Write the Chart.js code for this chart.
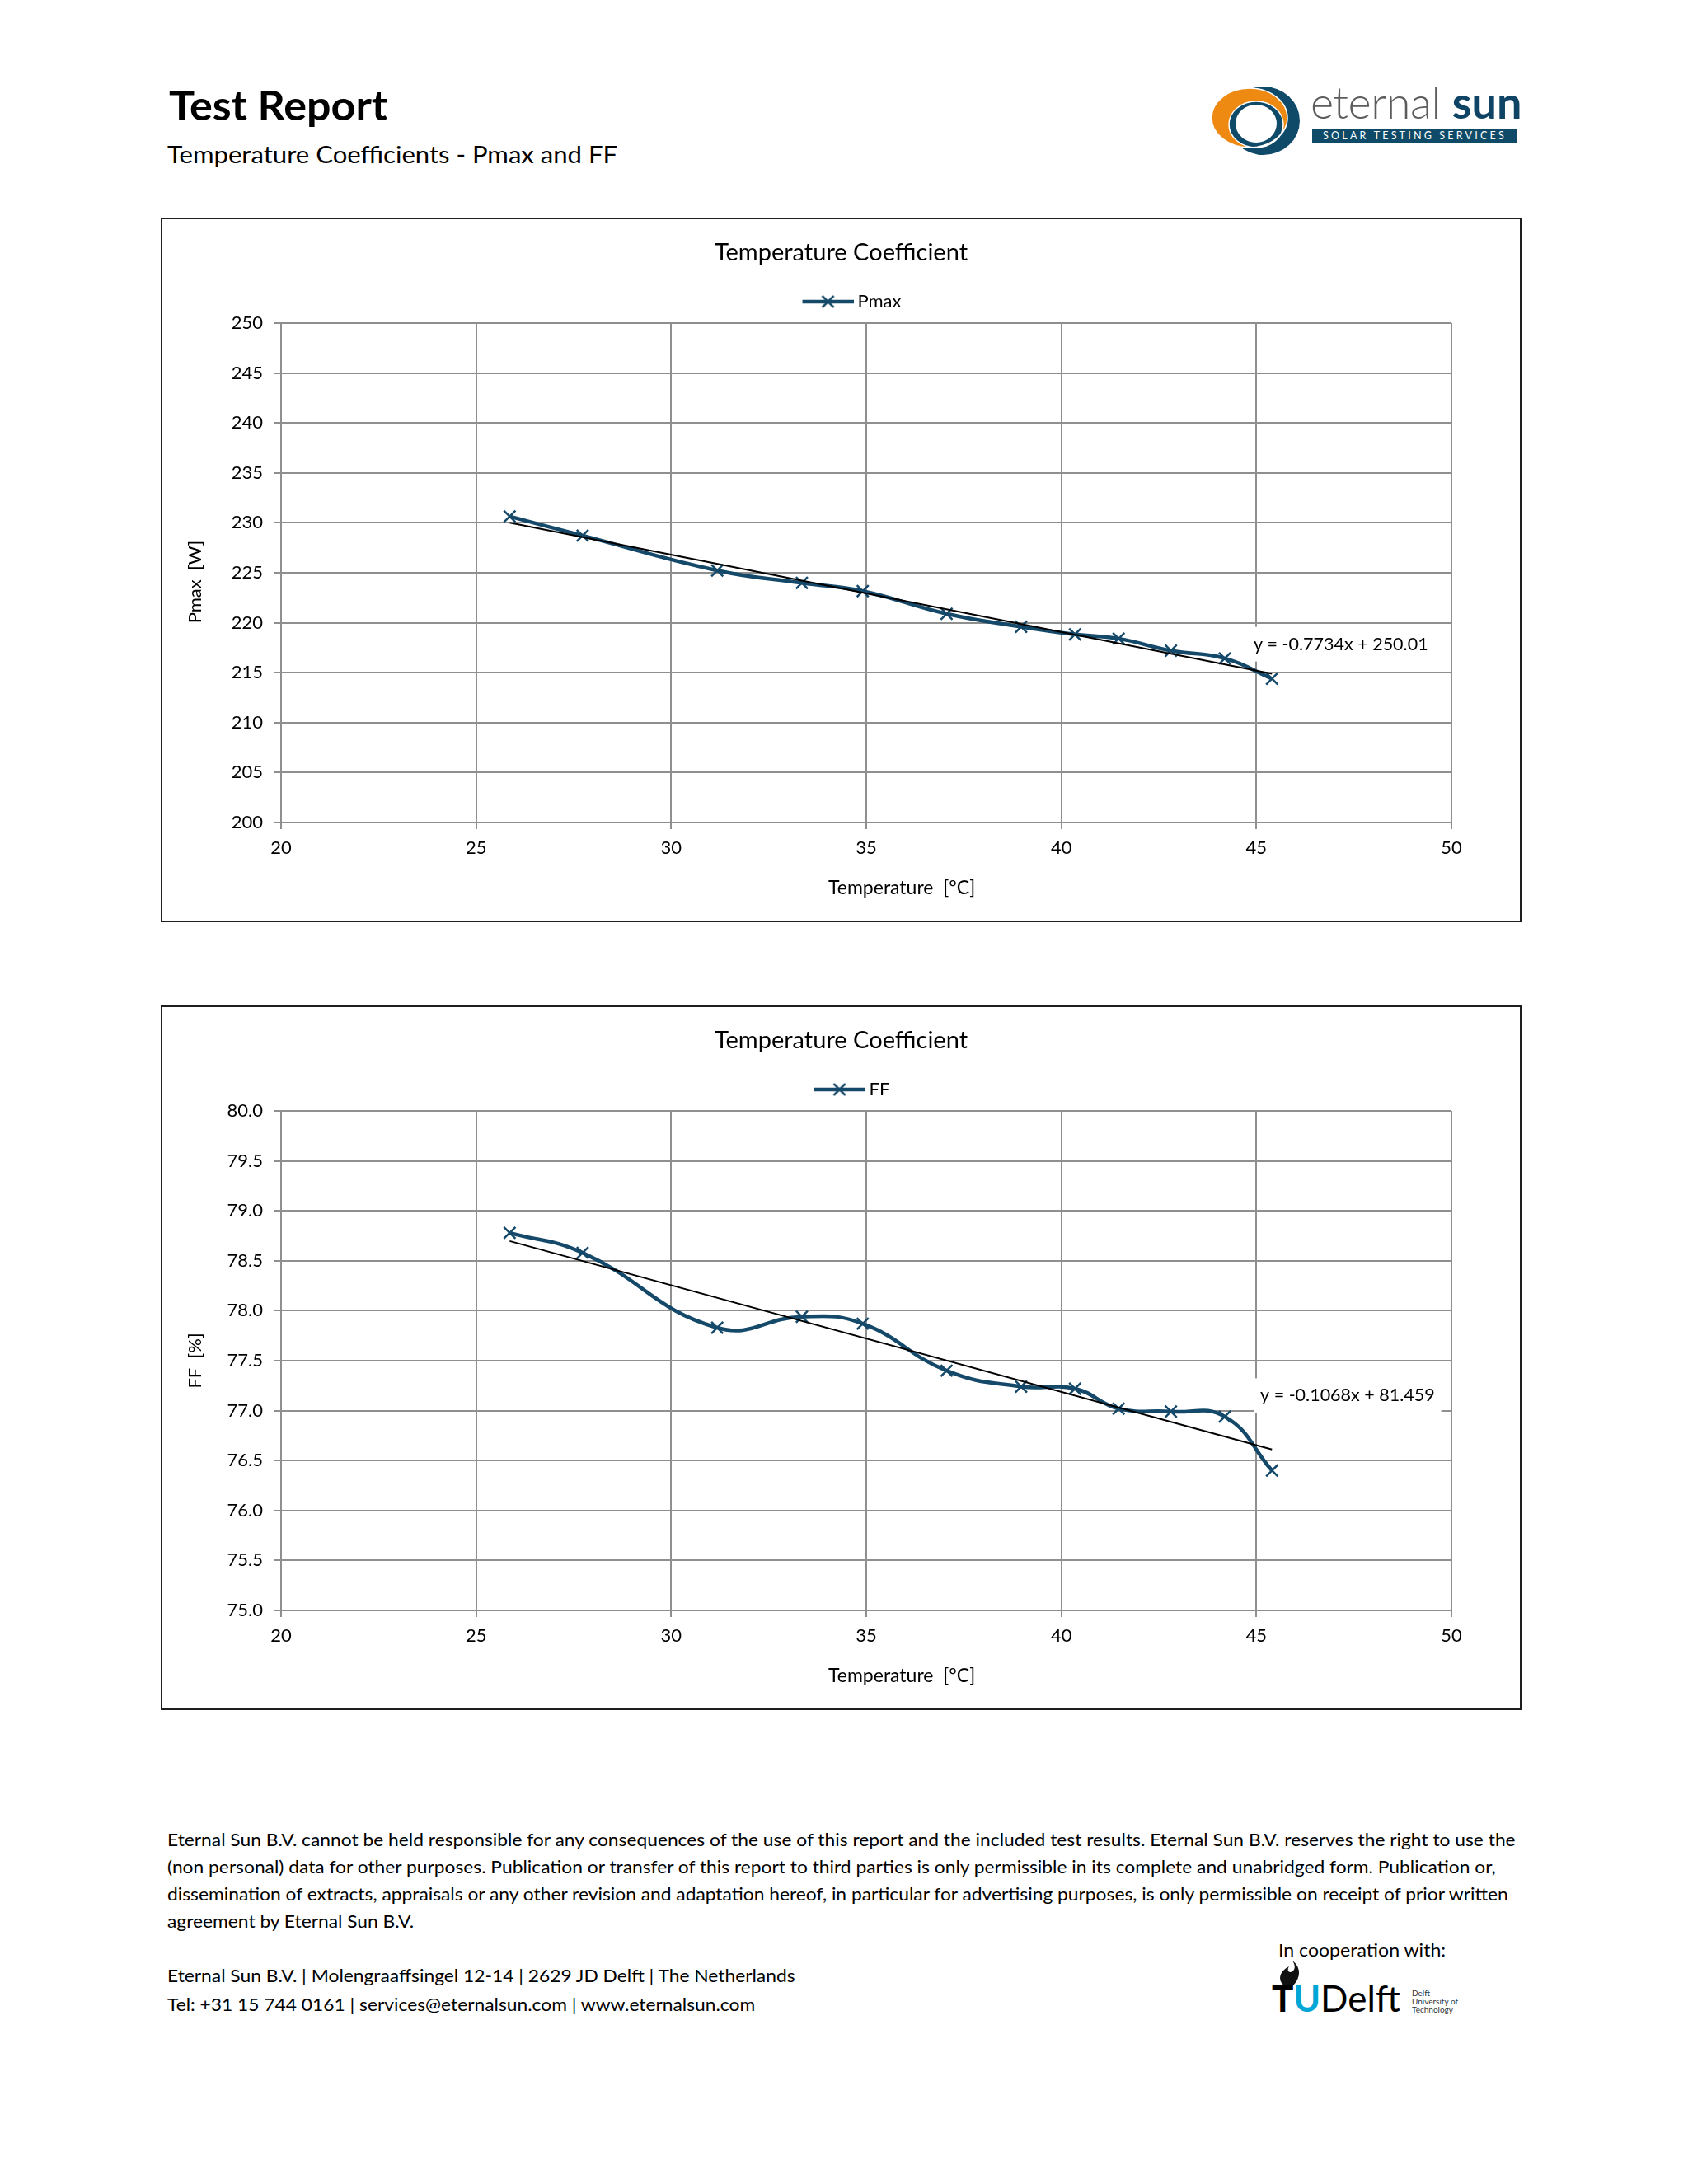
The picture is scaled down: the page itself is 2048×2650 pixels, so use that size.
<!DOCTYPE html>
<html>
<head>
<meta charset="utf-8">
<title>Test Report - Temperature Coefficients</title>
<script src="https://cdn.jsdelivr.net/npm/chart.js@4.4.1/dist/chart.umd.min.js"></script>
<style>
    body { margin: 0; background: #fff; font-family: Lato, "Noto Sans", sans-serif; color: #000; }
    #page { position: relative; width: 2048px; height: 2650px; overflow: hidden; background: #fff; }
    .txt { position: absolute; white-space: nowrap; line-height: 1.2; transform-origin: left top; }
    #report_title { left: 205px; top: 97px; font-size: 50px; font-weight: 700; transform: scaleX(1.04); }
    #report_sub { left: 203px; top: 171px; font-size: 28px; transform: scaleX(1.11); }
    .chart_box { position: absolute; left: 195px; width: 1651px; height: 855px; border: 2px solid #1e1e1e; box-sizing: border-box; }
    .chart_box canvas { position: absolute; left: 0; top: 0; }
    #disclaimer { left: 203px; top: 2215px; font-size: 21px; line-height: 33px; transform: scaleX(1.085); }
    #address { left: 203px; top: 2379px; font-size: 21px; line-height: 35px; transform: scaleX(1.085); }
    #coop { left: 1551px; top: 2353px; font-size: 21px; transform: scaleX(1.10); }
    #tud_word { left: 1543px; top: 2402px; font-size: 44px; line-height: 1; }
    #tud_word .t { font-weight: 700; color: #000; }
    #tud_word .u { font-weight: 700; color: #00a6d6; }
    #tud_small { left: 1713px; top: 2413px; font-size: 10px; line-height: 10px; color: #333; }
    #es_word { left: 1590px; top: 97px; font-size: 54px; line-height: 1; }
    #es_word .eternal { font-weight: 300; color: #5b5c5e; letter-spacing: -0.5px; }
    #es_word .sun { font-weight: 700; color: #0f4464; }
    #es_bar { position: absolute; left: 1592px; top: 156px; width: 249px; height: 18px; background: #0f4b69;
        color: #fff; font-size: 12.5px; line-height: 18px; letter-spacing: 3.2px; text-align: center; white-space: nowrap; }
</style>
</head>
<body>
<div id="page">
    <div class="txt" id="report_title">Test Report</div>
    <div class="txt" id="report_sub">Temperature Coefficients - Pmax and FF</div>

    <svg style="position:absolute;left:0;top:0" width="1600" height="200">
        <path fill="#0f4b69" fill-rule="evenodd"
              d="M 1489 146.5 a 44 41.5 0 1 0 88 0 a 44 41.5 0 1 0 -88 0 Z M 1499 150 a 25 23 0 1 0 50 0 a 25 23 0 1 0 -50 0 Z"/>
        <path fill="#ee8a12" fill-rule="evenodd" stroke="#fff" stroke-width="1.5"
              d="M 1470 143 a 46 36 0 1 0 92 0 a 46 36 0 1 0 -92 0 Z M 1491 151 a 33 28 0 1 0 66 0 a 33 28 0 1 0 -66 0 Z"/>
    </svg>
    <div class="txt" id="es_word"><span class="eternal">eternal</span> <span class="sun">sun</span></div>
    <div id="es_bar">SOLAR TESTING SERVICES</div>

    <div class="chart_box" style="top:264px"><canvas id="chart_pmax" width="1647" height="851"></canvas></div>
    <div class="chart_box" style="top:1220px"><canvas id="chart_ff" width="1647" height="851"></canvas></div>

    <div class="txt" id="disclaimer">
        Eternal Sun B.V. cannot be held responsible for any consequences of the use of this report and the included test results. Eternal Sun B.V. reserves the right to use the<br>
        (non personal) data for other purposes. Publication or transfer of this report to third parties is only permissible in its complete and unabridged form. Publication or,<br>
        dissemination of extracts, appraisals or any other revision and adaptation hereof, in particular for advertising purposes, is only permissible on receipt of prior written<br>
        agreement by Eternal Sun B.V.
    </div>
    <div class="txt" id="address">
        Eternal Sun B.V. | Molengraaffsingel 12-14 | 2629 JD Delft | The Netherlands<br>
        Tel: +31 15 744 0161 | services@eternalsun.com | www.eternalsun.com
    </div>
    <div class="txt" id="coop">In cooperation with:</div>
    <svg style="position:absolute;left:1540px;top:2378px" width="50" height="36">
        <path d="M 22 34 C 8 26, 12 14, 24 8 C 20 14, 26 18, 30 12 C 32 8, 30 4, 28 1 C 40 10, 38 24, 26 34 Z" fill="#111"/>
    </svg>
    <div class="txt" id="tud_word"><span class="t">T</span><span class="u">U</span><span>Delft</span></div>
    <div class="txt" id="tud_small">Delft<br>University of<br>Technology</div>
</div>

<script>
// temperature of each measurement [°C]
const arrTemps = [25.86, 27.73, 31.18, 33.35, 34.91, 37.06, 38.97, 40.35, 41.47, 42.81, 44.19, 45.40];
// maximum power [W]
const arrPmax = [230.64, 228.72, 225.23, 223.99, 223.17, 220.90, 219.60, 218.83, 218.41, 217.20, 216.43, 214.40];
// fill factor [%]
const arrFF = [78.78, 78.58, 77.83, 77.94, 77.87, 77.40, 77.24, 77.22, 77.02, 76.99, 76.94, 76.40];

// linear trendlines as printed on the report
const arrPmaxFit = [-0.7734, 250.01];
const arrFFFit = [-0.1068, 81.459];

const arrTempTicks = [20, 50, 5];
const arrPmaxTicks = [200, 250, 5];
const arrFFTicks = [75, 80, 0.5];

const strLineColor = '#15496a';
const strGridColor = '#8f8f8f';

Chart.defaults.font.family = 'Lato, "Noto Sans", sans-serif';
Chart.defaults.color = '#000';

// white box with the trendline equation, like excel does
const eqLabelPlugin = {
    id: 'eqLabel',
    beforeDatasetsDraw(chart, args, opts) {
        if (!opts.text) {
            return;
        }
        const ctx = chart.ctx;
        const x = chart.scales.x.getPixelForValue(opts.x);
        const y = chart.scales.y.getPixelForValue(opts.y);
        ctx.save();
        ctx.font = '21.5px Lato, "Noto Sans", sans-serif';
        const w = ctx.measureText(opts.text).width;
        ctx.fillStyle = '#fff';
        ctx.fillRect(x - 8, y - 21, w + 16, 42);
        ctx.fillStyle = '#000';
        ctx.textBaseline = 'middle';
        ctx.fillText(opts.text, x, y);
        ctx.restore();
    }
};

// legend sits a bit closer to the plot in excel
const legendNudgePlugin = {
    id: 'legendNudge',
    afterLayout(chart) {
        chart.legend.top -= 5;
        chart.legend.bottom -= 5;
    }
};

// line with an x in the middle, drawn at the right end of a wider image
function makeLegendMark(color) {
    const c = document.createElement('canvas');
    c.width = 94;
    c.height = 22;
    const g = c.getContext('2d');
    g.strokeStyle = color;
    g.lineWidth = 4.5;
    g.beginPath();
    g.moveTo(32, 11);
    g.lineTo(94, 11);
    g.stroke();
    g.lineWidth = 2.5;
    g.beginPath();
    g.moveTo(56, 4);
    g.lineTo(70, 18);
    g.moveTo(70, 4);
    g.lineTo(56, 18);
    g.stroke();
    return c;
}

function buildChart(strId, strLabel, arrValues, arrFit, arrTicks, strYTitle, arrEqAt, intDecimals) {
    const arrPoints = arrTemps.map((t, i) => ({x: t, y: arrValues[i]}));
    const tFirst = arrTemps[0];
    const tLast = arrTemps[arrTemps.length - 1];
    const arrTrend = [
        {x: tFirst, y: arrFit[0] * tFirst + arrFit[1]},
        {x: tLast, y: arrFit[0] * tLast + arrFit[1]}
    ];

    const ctx = document.getElementById(strId).getContext('2d');
    return new Chart(ctx, {
        type: 'line',
        data: {
            datasets: [
                {
                    label: strLabel,
                    data: arrPoints,
                    borderColor: strLineColor,
                    borderWidth: 4.5,
                    tension: 0.45,
                    pointStyle: 'crossRot',
                    pointRadius: 10,
                    pointBorderWidth: 2.5,
                    pointBorderColor: strLineColor,
                    pointBackgroundColor: 'transparent',
                    order: 1
                },
                {
                    label: 'trend',
                    data: arrTrend,
                    borderColor: '#000',
                    borderWidth: 2,
                    pointRadius: 0,
                    tension: 0,
                    order: 0
                }
            ]
        },
        options: {
            responsive: false,
            animation: false,
            devicePixelRatio: 1,
            layout: {
                padding: {top: 0, left: 0, right: 0, bottom: 9}
            },
            plugins: {
                title: {
                    display: true,
                    text: 'Temperature Coefficient',
                    font: {size: 29, weight: 'normal'},
                    padding: {top: 23.6, bottom: 25.6}
                },
                legend: {
                    display: true,
                    labels: {
                        usePointStyle: true,
                        pointStyle: makeLegendMark(strLineColor),
                        pointStyleWidth: 82,
                        font: {size: 22},
                        padding: 10,
                        filter: (item) => item.datasetIndex === 0
                    }
                },
                tooltip: {enabled: false},
                eqLabel: {
                    text: `y = ${arrFit[0]}x + ${arrFit[1]}`,
                    x: arrEqAt[0],
                    y: arrEqAt[1]
                }
            },
            scales: {
                x: {
                    type: 'linear',
                    min: arrTempTicks[0],
                    max: arrTempTicks[1],
                    afterFit: (scale) => { scale.height = 110; },
                    ticks: {
                        stepSize: arrTempTicks[2],
                        font: {size: 22},
                        padding: 10
                    },
                    grid: {color: strGridColor, lineWidth: 2, tickLength: 8},
                    border: {color: strGridColor, width: 2},
                    title: {
                        display: true,
                        text: '\u2003\u2003\u2003\u2003\u2003Temperature  [°C]',
                        font: {size: 23},
                        padding: {top: 0, bottom: 16.2}
                    }
                },
                y: {
                    type: 'linear',
                    min: arrTicks[0],
                    max: arrTicks[1],
                    afterFit: (scale) => { scale.width = 144; },
                    ticks: {
                        stepSize: arrTicks[2],
                        font: {size: 22},
                        padding: 14,
                        callback: (value) => Number(value).toFixed(intDecimals)
                    },
                    grid: {color: strGridColor, lineWidth: 2, tickLength: 8},
                    border: {color: strGridColor, width: 2},
                    title: {
                        display: true,
                        text: strYTitle,
                        font: {size: 22},
                        padding: {top: 26.8, bottom: 0}
                    }
                },
                // empty space on the right so title and legend stay centred on the box
                yRight: {
                    type: 'linear',
                    position: 'right',
                    min: 0,
                    max: 1,
                    afterFit: (scale) => { scale.width = 83; },
                    grid: {display: false},
                    border: {display: false},
                    ticks: {display: false}
                }
            }
        },
        plugins: [eqLabelPlugin, legendNudgePlugin]
    });
}

buildChart('chart_pmax', 'Pmax', arrPmax, arrPmaxFit, arrPmaxTicks, 'Pmax  [W]\u2003 ', [44.93, 217.85], 0);
buildChart('chart_ff', 'FF', arrFF, arrFFFit, arrFFTicks, 'FF  [%]', [45.1, 77.15], 1);
</script>
</body>
</html>
